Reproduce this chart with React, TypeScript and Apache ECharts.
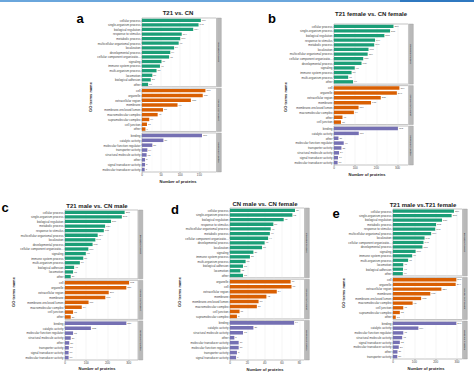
import React, { useEffect, useRef } from 'react';
import * as echarts from 'echarts';

// ---------- Data ----------
// Panel a: T21 vs. CN
const aBPCategories = ['cellular process', 'single-organism process', 'biological regulation', 'response to stimulus', 'metabolic process', 'multicellular organismal process', 'localization', 'developmental process', 'cellular component organizatio...', 'signaling', 'immune system process', 'multi-organism process', 'locomotion', 'biological adhesion', 'other'];
const aBPValues = [154, 148, 134, 104, 100, 96, 84, 74, 71, 51, 47, 38, 27, 23, 16];
const aCCCategories = ['cell', 'organelle', 'extracellular region', 'membrane', 'membrane-enclosed lumen', 'macromolecular complex', 'supramolecular complex', 'cell junction', 'other'];
const aCCValues = [166, 159, 128, 93, 55, 41, 19, 13, 9];
const aMFCategories = ['binding', 'catalytic activity', 'molecular function regulator', 'transporter activity', 'structural molecule activity', 'other', 'signal transducer activity', 'molecular transducer activity'];
const aMFValues = [157, 56, 27, 14, 12, 8, 8, 7];

// Panel b: T21 female vs. CN female
const bBPCategories = ['cellular process', 'single-organism process', 'biological regulation', 'response to stimulus', 'metabolic process', 'localization', 'multicellular organismal process', 'cellular component organizatio...', 'developmental process', 'signaling', 'immune system process', 'multi-organism process', 'other'];
const bBPValues = [281, 265, 238, 194, 190, 163, 159, 138, 130, 98, 83, 67, 90];
const bCCCategories = ['cell', 'organelle', 'extracellular region', 'membrane', 'membrane-enclosed lumen', 'macromolecular complex', 'other', 'cell junction'];
const bCCValues = [309, 297, 221, 175, 116, 94, 40, 33];
const bMFCategories = ['binding', 'catalytic activity', 'other', 'molecular function regulator', 'transporter activity', 'structural molecule activity', 'signal transducer activity', 'molecular transducer activity'];
const bMFValues = [302, 117, 21, 46, 35, 24, 19, 17];

// Panel c: T21 male vs. CN male
const cBPCategories = ['cellular process', 'single-organism process', 'biological regulation', 'metabolic process', 'response to stimulus', 'multicellular organismal process', 'localization', 'developmental process', 'cellular component organizatio...', 'signaling', 'immune system process', 'multi-organism process', 'biological adhesion', 'locomotion', 'other'];
const cBPValues = [281, 268, 217, 189, 183, 154, 143, 130, 110, 98, 86, 70, 43, 38, 27];
const cCCCategories = ['cell', 'organelle', 'extracellular region', 'membrane', 'membrane-enclosed lumen', 'macromolecular complex', 'cell junction', 'other'];
const cCCValues = [302, 289, 206, 190, 111, 79, 38, 27];
const cMFCategories = ['binding', 'catalytic activity', 'molecular function regulator', 'structural molecule activity', 'other', 'transporter activity', 'signal transducer activity', 'molecular transducer activity'];
const cMFValues = [289, 122, 38, 27, 20, 18, 17, 17];

// Panel d: CN male vs. CN female
const dBPCategories = ['cellular process', 'single-organism process', 'biological regulation', 'response to stimulus', 'multicellular organismal process', 'metabolic process', 'cellular component organizatio...', 'developmental process', 'localization', 'signaling', 'immune system process', 'multi-organism process', 'biological adhesion', 'locomotion', 'other'];
const dBPValues = [75, 72, 62, 50, 47, 46, 44, 40, 37, 27, 23, 18, 15, 12, 15];
const dCCCategories = ['organelle', 'cell', 'extracellular region', 'membrane', 'membrane-enclosed lumen', 'macromolecular complex', 'cell junction', 'supramolecular complex'];
const dCCValues = [70, 71, 54, 42, 33, 31, 11, 8];
const dMFCategories = ['binding', 'catalytic activity', 'structural molecule activity', 'other', 'molecular transducer activity', 'molecular function regulator', 'transporter activity', 'signal transducer activity'];
const dMFValues = [74, 27, 15, 5, 10, 10, 8, 7];

// Panel e: T21 male vs.T21 female
const eBPCategories = ['cellular process', 'single-organism process', 'biological regulation', 'metabolic process', 'response to stimulus', 'multicellular organismal process', 'localization', 'cellular component organizatio...', 'developmental process', 'signaling', 'immune system process', 'multi-organism process', 'locomotion', 'biological adhesion', 'other'];
const eBPValues = [286, 275, 230, 202, 198, 179, 148, 143, 138, 106, 90, 71, 48, 47, 46];
const eCCCategories = ['cell', 'organelle', 'extracellular region', 'membrane', 'membrane-enclosed lumen', 'macromolecular complex', 'cell junction', 'supramolecular complex', 'other'];
const eCCValues = [297, 294, 227, 175, 132, 92, 48, 32, 13];
const eMFCategories = ['binding', 'catalytic activity', 'molecular function regulator', 'structural molecule activity', 'signal transducer activity', 'molecular transducer activity', 'other', 'transporter activity'];
const eMFValues = [297, 119, 48, 43, 32, 27, 21, 20];

const facetNames = ['Biological Process', 'Cellular Component', 'Molecular Function'];
const facetColors = ['#1b9e77', '#d95f02', '#7570b3'];
const FAMILY = 'Liberation Sans, Arial, Helvetica, sans-serif';

// ---------- Layout ----------
const panels = [
  { letter: 'a', title: 'T21 vs. CN', letterX: 80, letterY: 18.5, titleX: 178, titleY: 13, left: 142, right: 216.5, top: 18, bottom: 172, max: 195, interval: 50, yTitleX: 90, yTitleY: 97, xTitleX: 178, xTitleY: 181,
    facets: [[aBPCategories, aBPValues], [aCCCategories, aCCValues], [aMFCategories, aMFValues]] },
  { letter: 'b', title: 'T21 female vs. CN female', letterX: 272, letterY: 18, titleX: 371, titleY: 14, left: 334, right: 408.5, top: 24, bottom: 165, max: 352, interval: 100, yTitleX: 285, yTitleY: 97, xTitleX: 367, xTitleY: 174,
    facets: [[bBPCategories, bBPValues], [bCCCategories, bCCValues], [bMFCategories, bMFValues]] },
  { letter: 'c', title: 'T21 male vs. CN male', letterX: 5, letterY: 207, titleX: 97, titleY: 206, left: 65, right: 138, top: 210, bottom: 360, max: 344, interval: 100, yTitleX: 13, yTitleY: 292, xTitleX: 97, xTitleY: 368,
    facets: [[cBPCategories, cBPValues], [cCCCategories, cCCValues], [cMFCategories, cMFValues]] },
  { letter: 'd', title: 'CN male vs. CN female', letterX: 175, letterY: 209, titleX: 265, titleY: 204, left: 230, right: 304.5, top: 208, bottom: 360, max: 86, interval: 20, yTitleX: 179, yTitleY: 292, xTitleX: 265, xTitleY: 369,
    facets: [[dBPCategories, dBPValues], [dCCCategories, dCCValues], [dMFCategories, dMFValues]] },
  { letter: 'e', title: 'T21 male vs.T21 female', letterX: 336, letterY: 213, titleX: 423, titleY: 205, left: 393, right: 462.5, top: 209, bottom: 359, max: 326, interval: 100, yTitleX: 343, yTitleY: 293, xTitleX: 426, xTitleY: 368,
    facets: [[eBPCategories, eBPValues], [eCCCategories, eCCValues], [eMFCategories, eMFValues]] },
];

function buildOption() {
  const grid: any[] = [];
  const xAxis: any[] = [];
  const yAxis: any[] = [];
  const series: any[] = [];
  const graphic: any[] = [];

  graphic.push({ type: 'rect', shape: { x: 0, y: 0, width: 474, height: 2 }, style: { fill: '#6aa6dc' } });
  graphic.push({ type: 'rect', shape: { x: 400, y: 0, width: 74, height: 2 }, style: { fill: '#2f78c0' } });

  panels.forEach((L) => {
    const counts = L.facets.map((f) => (f[0] as string[]).length);
    const gap = 1.5;
    const totalUnits = counts.reduce((s, n) => s + n + 1.2, 0);
    const unit = (L.bottom - L.top - gap * 2) / totalUnits;
    let y = L.top;
    L.facets.forEach(([cats, vals], fi) => {
      const h = (counts[fi] + 1.2) * unit;
      const gi = grid.length;
      const isBottom = fi === 2;
      grid.push({ left: L.left, top: y, width: L.right - L.left, height: h, show: true, borderColor: '#9a9a9a', borderWidth: 0.6, backgroundColor: '#ffffff' });
      xAxis.push({
        type: 'value', gridIndex: gi, min: 0, max: L.max, interval: L.interval,
        axisLine: { show: false },
        axisTick: { show: isBottom, length: 1.2, lineStyle: { color: '#555', width: 0.4 } },
        axisLabel: { show: isBottom, fontSize: 3, margin: 1.5, color: '#444', fontFamily: FAMILY, showMaxLabel: false },
        splitLine: { show: true, lineStyle: { color: '#e4e4e4', width: 0.4 } },
        minorTick: { show: false, splitNumber: 2 },
        minorSplitLine: { show: true, lineStyle: { color: '#f1f1f1', width: 0.3 } },
      });
      yAxis.push({
        type: 'category', gridIndex: gi, data: cats, inverse: true,
        axisLine: { show: false },
        axisTick: { show: true, length: 1, alignWithLabel: true, lineStyle: { color: '#555', width: 0.4 } },
        axisLabel: { fontSize: 3, margin: 1.5, color: '#444', interval: 0, fontFamily: FAMILY },
        splitLine: { show: false },
      });
      series.push({
        type: 'bar', xAxisIndex: gi, yAxisIndex: gi, data: vals, barWidth: '72%',
        itemStyle: { color: facetColors[fi] },
        label: { show: true, position: 'right', distance: 1, fontSize: 2.5, color: '#555', fontFamily: FAMILY },
      });
      graphic.push({ type: 'rect', shape: { x: L.right + 0.5, y, width: 4.3, height: h }, style: { fill: '#b9b9b9', stroke: '#999999', lineWidth: 0.4 } });
      graphic.push({ type: 'text', x: L.right + 2.65, y: y + h / 2, rotation: -Math.PI / 2, style: { text: facetNames[fi], fontSize: 2.4, fill: '#222', align: 'center', verticalAlign: 'middle', fontFamily: FAMILY } });
      y += h + gap;
    });
    graphic.push({ type: 'text', x: L.letterX, y: L.letterY, style: { text: L.letter, fontSize: 13, fontWeight: 'bold', fill: '#000', align: 'center', verticalAlign: 'middle', fontFamily: FAMILY } });
    graphic.push({ type: 'text', x: L.titleX, y: L.titleY, style: { text: L.title, fontSize: 6, fontWeight: 'bold', fill: '#222', align: 'center', verticalAlign: 'middle', fontFamily: FAMILY } });
    graphic.push({ type: 'text', x: L.xTitleX, y: L.xTitleY, style: { text: 'Number of proteins', fontSize: 4, fontWeight: 'bold', fill: '#222', align: 'center', verticalAlign: 'middle', fontFamily: FAMILY } });
    graphic.push({ type: 'text', x: L.yTitleX, y: L.yTitleY, rotation: Math.PI / 2, style: { text: 'GO terms name', fontSize: 4, fontWeight: 'bold', fill: '#222', align: 'center', verticalAlign: 'middle', fontFamily: FAMILY } });
  });

  return { animation: false, backgroundColor: '#ffffff', grid, xAxis, yAxis, series, graphic };
}

export default function App() {
  const ref = useRef<HTMLDivElement>(null);
  useEffect(() => {
    document.body.style.margin = '0';
    if (!ref.current) return;
    const chart = echarts.init(ref.current, undefined, { renderer: 'svg' });
    chart.setOption(buildOption() as any);
    return () => chart.dispose();
  }, []);
  return <div ref={ref} style={{ width: 474, height: 383 }} />;
}
